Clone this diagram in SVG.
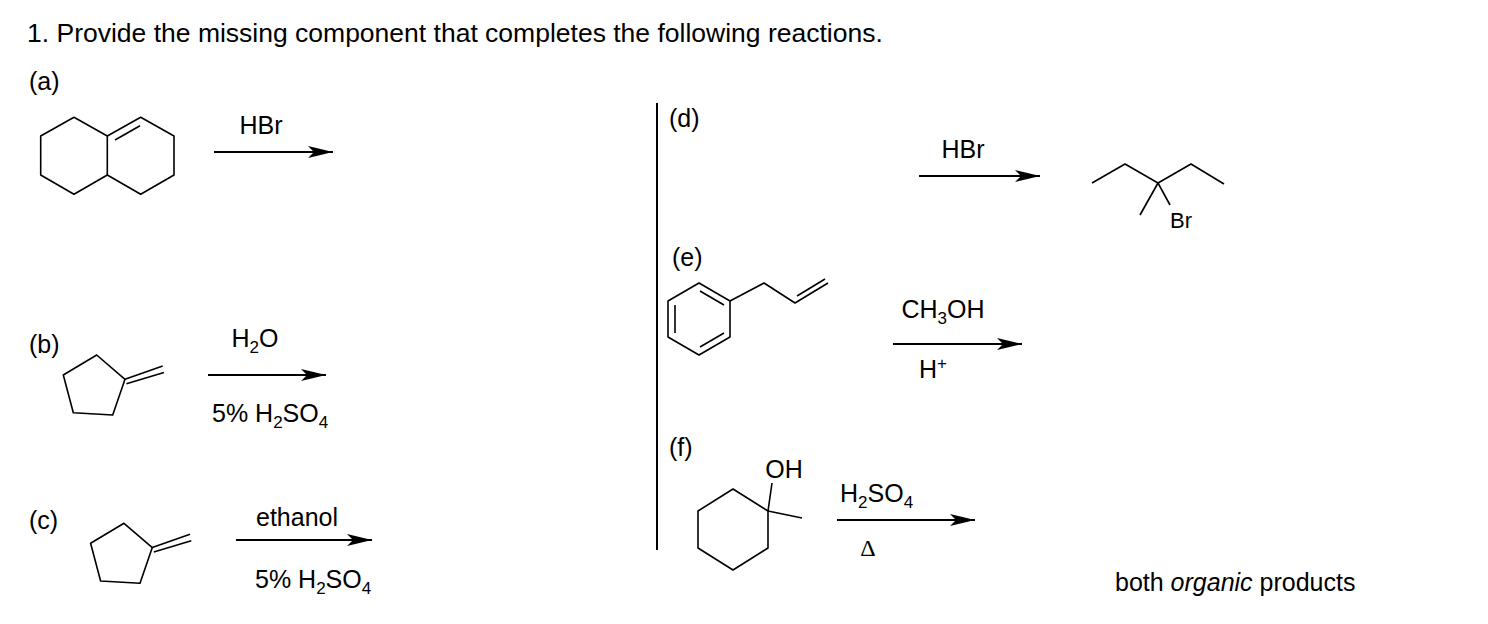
<svg xmlns="http://www.w3.org/2000/svg" width="1488" height="624" viewBox="0 0 1488 624">
<defs>
<marker id="ah" markerWidth="26" markerHeight="14" refX="25" refY="7" orient="auto" markerUnits="userSpaceOnUse"><path d="M0,1 L25,7 L0,13 L6,7 Z" fill="#000"/></marker>
<style>
text{font-family:"Liberation Sans",Arial,sans-serif;font-size:25px;fill:#000}
.b{fill:none;stroke:#000;stroke-width:1.6;stroke-linejoin:round}
.ar{stroke:#000;stroke-width:2;marker-end:url(#ah)}
.s{font-size:17px}
</style>
</defs>
<rect width="1488" height="624" fill="#fff"/>
<text x="27" y="42" style="font-size:26.5px">1. Provide the missing component that completes the following reactions.</text>
<text x="29" y="90">(a)</text>
<text x="29" y="353">(b)</text>
<text x="29" y="529">(c)</text>
<text x="669" y="127">(d)</text>
<text x="672" y="266">(e)</text>
<text x="669" y="456">(f)</text>
<line x1="657" y1="103" x2="657" y2="550" stroke="#000" stroke-width="2"/>
<g id="mol-a"><polygon class="b" points="40.7,136 74,117.3 107.3,136 107.3,175 74,194.3 40.7,175"/><polyline class="b" points="107.3,136 140.7,117.3 174,136 174,175 140.7,194.3 107.3,175"/><line class="b" x1="115" y1="140" x2="140" y2="125.7"/></g>
<g id="mol-b"><polygon class="b" points="96.7,355 125,379.3 112.7,415 73.3,412.7 63.3,375"/><line class="b" x1="125" y1="379.3" x2="162.7" y2="366"/><line class="b" x1="126.5" y1="383.8" x2="164" y2="372.5"/></g>
<g id="mol-c" transform="translate(27.3,168.3)"><polygon class="b" points="96.7,355 125,379.3 112.7,415 73.3,412.7 63.3,375"/><line class="b" x1="125" y1="379.3" x2="162.7" y2="366"/><line class="b" x1="126.5" y1="383.8" x2="164" y2="372.5"/></g>
<g id="mol-d"><polyline class="b" points="1092,183 1125,164 1158,183 1191,164 1224,184"/><line class="b" x1="1158" y1="183" x2="1140" y2="215"/><line class="b" x1="1158" y1="183" x2="1170" y2="205"/><text x="1181" y="228" text-anchor="middle" style="font-size:22px">Br</text></g>
<g id="mol-e"><polygon class="b" points="699,283 730,301 730,337 699,355 668,337 668,301"/><line class="b" x1="675" y1="305" x2="675" y2="333"/><line class="b" x1="700" y1="291" x2="724" y2="305"/><line class="b" x1="700" y1="347" x2="724" y2="333"/><polyline class="b" points="730,301 764,283 795,303 828,283"/><line class="b" x1="797" y1="296" x2="825" y2="279"/></g>
<g id="mol-f"><polygon class="b" points="733,489 768,511 768,548 733,570 698,548 698,511"/><line class="b" x1="768" y1="511" x2="802" y2="518"/><line class="b" x1="768" y1="511" x2="772" y2="483"/><text x="784" y="478" text-anchor="middle">OH</text></g>
<g id="connectors">
<line class="ar" x1="214" y1="152" x2="333" y2="152"/>
<line class="ar" x1="208" y1="375" x2="326" y2="375"/>
<line class="ar" x1="236" y1="540" x2="372" y2="540"/>
<line class="ar" x1="919" y1="176" x2="1040" y2="176"/>
<line class="ar" x1="893" y1="344" x2="1022" y2="344"/>
<line class="ar" x1="837" y1="520" x2="975" y2="520"/>
</g>
<text x="261" y="134" text-anchor="middle">HBr</text>
<text x="255" y="347" text-anchor="middle">H<tspan class="s" dy="6">2</tspan><tspan dy="-6">O</tspan></text>
<text x="212" y="422">5% H<tspan class="s" dy="6">2</tspan><tspan dy="-6">SO</tspan><tspan class="s" dy="6">4</tspan></text>
<text x="297" y="526" text-anchor="middle">ethanol</text>
<text x="255" y="588">5% H<tspan class="s" dy="6">2</tspan><tspan dy="-6">SO</tspan><tspan class="s" dy="6">4</tspan></text>
<text x="963" y="158" text-anchor="middle">HBr</text>
<text x="943" y="318" text-anchor="middle">CH<tspan class="s" dy="6">3</tspan><tspan dy="-6">OH</tspan></text>
<text x="933" y="378" text-anchor="middle">H<tspan class="s" dy="-9">+</tspan></text>
<text x="840" y="502">H<tspan class="s" dy="6">2</tspan><tspan dy="-6">SO</tspan><tspan class="s" dy="6">4</tspan></text>
<text x="868" y="556" text-anchor="middle" style="font-family:'Liberation Serif',serif;font-size:24px">Δ</text>
<text x="1115" y="591">both <tspan font-style="italic">organic</tspan> products</text>
</svg>
